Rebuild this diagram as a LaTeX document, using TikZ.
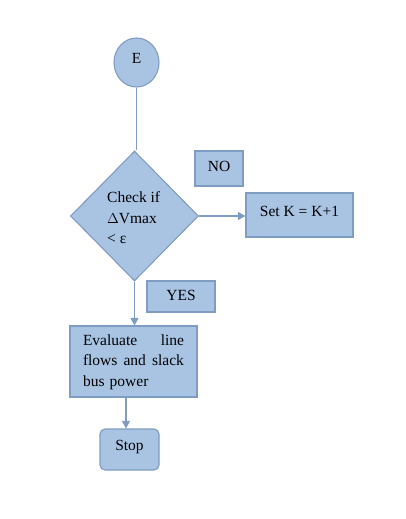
\documentclass[tikz,border=0pt]{standalone}
\usepackage{fontspec}
\setmainfont{Liberation Serif}
\usetikzlibrary{shapes.geometric,arrows.meta}
\definecolor{boxfill}{HTML}{A9C3E3}
\definecolor{boxline}{HTML}{7F9CC2}
\tikzset{
  x=1pt,y=1pt,
  shp/.style={draw=boxline,fill=boxfill,line width=1.1pt,inner sep=0pt},
  rbox/.style={shp,rectangle},
  lbl/.style={font=\fontsize{15.5}{20.5}\selectfont,inner sep=0pt},
  conn/.style={draw=boxline,line width=1.1pt},
  arr/.style={conn,-{Triangle[width=8pt,length=7.5pt]}}
}
\begin{document}
\begin{tikzpicture}
\useasboundingbox (0,0) rectangle (405,-519);
\node[shp,ellipse,minimum width=45pt,minimum height=49pt] (E) at (136.5,-62.5) {};
\node[lbl] (Et) at (136.5,-58) {E};
\node[shp,diamond,minimum width=128pt,minimum height=130pt] (D) at (134.5,-216) {};
\node[lbl,align=left,anchor=west] (Dt) at (107,-218) {Check if\\$\Delta$Vmax\\< ε};
\node[rbox,minimum width=48pt,minimum height=35pt] (NO) at (219,-168.5) {};
\node[lbl] (NOt) at (219,-166.5) {NO};
\node[rbox,minimum width=107pt,minimum height=44pt] (K) at (299.5,-215) {};
\node[lbl] (Kt) at (299.5,-211) {Set K = K+1};
\node[rbox,minimum width=68pt,minimum height=31pt] (YES) at (181,-296.5) {};
\node[lbl] (YESt) at (181,-295) {YES};
\node[rbox,minimum width=127pt,minimum height=71pt] (Ev) at (133.5,-361.5) {};
\node[lbl,text width=101pt,align=left] (Evt) at (133.5,-362) {Evaluate\hfill line\\flows\hfill and\hfill slack\\bus power};
\node[rbox,rounded corners=5pt,minimum width=59pt,minimum height=41pt] (S) at (129.5,-449.5) {};
\node[lbl] (St) at (129.5,-447) {Stop};
\draw[conn] (E.south) -- (E.south |- D.north);
\draw[arr] (D.east) -- (D.east -| K.west);
\draw[arr] (D.south) -- (D.south |- Ev.north);
\coordinate (sx) at ([xshift=-3.5pt]S.north);
\draw[arr] (Ev.south -| sx) -- (sx);
\end{tikzpicture}
\end{document}
